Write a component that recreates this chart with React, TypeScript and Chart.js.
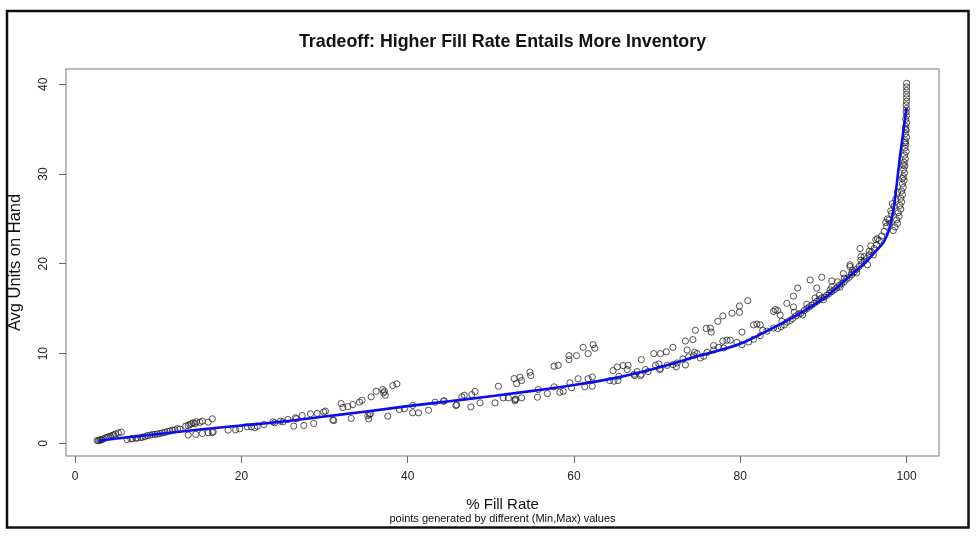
import { useEffect, useRef } from 'react';
import { Chart, ChartConfiguration, registerables } from 'chart.js';

Chart.register(...registerables);

const FONT = 'Liberation Sans, Arial, Helvetica, sans-serif';

const xTicks = [0, 20, 40, 60, 80, 100];
const yTicks = [0, 10, 20, 30, 40];

// smoothed fit (blue line)
const fitX = [2.8, 5, 10, 15, 20, 25, 30, 35, 40, 45, 50, 55, 60, 65, 70, 75, 80, 84, 87, 90.4, 93, 96.1, 97.9, 98.5, 99.2, 100];
const fitY = [0.3, 0.55, 1.05, 1.55, 2.0, 2.45, 3.0, 3.55, 4.15, 4.7, 5.25, 5.85, 6.5, 7.3, 8.4, 9.75, 11.1, 12.9, 14.4, 16.4, 18.5, 21.2, 23.8, 26.5, 31.9, 37.4];

// [fill rate %, avg units on hand]
const lowPoints: [number, number][] = [
  [2.65, 0.33], [2.8, 0.3], [2.95, 0.36], [3.05, 0.42], [3.2, 0.4], [3.4, 0.5], [3.65, 0.63], [3.85, 0.68],
  [4.05, 0.74], [4.25, 0.8], [4.45, 0.89], [4.65, 0.95], [4.85, 1.04], [5.2, 1.17], [5.55, 1.26], [6.25, 0.44],
  [6.7, 0.5], [6.9, 0.55], [7.3, 0.58], [7.5, 0.6], [7.9, 0.64], [8.1, 0.7], [8.4, 0.75], [8.7, 0.88],
  [9.0, 0.92], [9.3, 1.0], [9.6, 1.0], [9.9, 1.07], [10.2, 1.1], [10.5, 1.19], [10.8, 1.22], [11.1, 1.33],
  [11.4, 1.38], [11.7, 1.48], [12.0, 1.5], [12.3, 1.63], [12.6, 1.6], [13.3, 1.93], [13.6, 2.0], [13.8, 2.1],
  [14.0, 2.2], [14.2, 2.3], [14.4, 2.2], [14.6, 2.4], [15.0, 2.35], [15.3, 2.48], [16.0, 2.37], [16.5, 2.74],
  [13.6, 0.93], [14.5, 1.0], [15.3, 1.11], [16.0, 1.19], [16.5, 1.2], [16.6, 1.3], [18.4, 1.48], [19.3, 1.52],
  [19.8, 1.63], [20.7, 1.85], [21.2, 1.85], [21.6, 1.75], [21.9, 1.93], [22.7, 2.1], [23.8, 2.4], [24.0, 2.3],
  [24.7, 2.48], [25.0, 2.4], [25.6, 2.67], [26.5, 2.85], [26.3, 1.93], [26.6, 2.75],
];

const midPoints: [number, number][] = [
  [27.3, 3.1], [28.3, 3.3], [29.1, 3.35], [29.9, 3.5], [30.1, 3.6], [27.5, 2.0], [28.7, 2.22], [31.0, 2.6],
  [31.1, 2.55], [32.0, 4.44], [32.2, 4.0], [32.8, 4.1], [33.4, 4.33], [34.2, 4.6], [34.5, 4.81], [35.6, 5.19],
  [36.2, 5.81], [37.0, 6.0], [37.1, 5.63], [37.2, 5.8], [37.3, 5.37], [38.2, 6.44], [38.7, 6.63], [33.2, 2.78],
  [35.2, 3.11], [35.3, 2.74], [35.4, 3.22], [35.5, 3.3], [37.6, 3.04], [39.0, 3.78], [39.6, 3.85], [40.6, 4.22],
  [40.6, 3.41], [41.3, 3.41], [42.5, 3.7], [43.3, 4.59], [44.3, 4.7], [44.4, 4.75], [45.8, 4.22], [45.9, 4.3],
  [46.5, 5.19], [46.8, 5.37], [47.6, 4.07], [47.7, 5.44], [48.1, 5.78], [48.7, 4.52], [50.5, 4.52], [50.9, 6.37],
  [51.5, 5.07], [52.1, 5.07], [52.8, 7.22], [52.9, 4.89], [53.1, 6.67], [53.5, 7.37], [53.7, 5.07], [53.7, 7.0],
  [54.7, 7.93], [54.8, 7.56], [55.6, 5.15], [55.7, 6.0], [52.9, 4.75], [53.0, 4.95],
];

const upperPoints: [number, number][] = [
  [56.8, 5.56], [57.6, 6.3], [58.3, 5.7], [58.7, 5.8], [59.5, 6.74], [59.7, 6.2], [60.5, 7.2], [61.3, 6.3],
  [61.7, 7.2], [62.2, 7.4], [62.2, 6.37], [57.6, 8.6], [58.1, 8.7], [59.4, 9.78], [59.4, 9.33], [60.3, 9.78],
  [61.1, 10.7], [61.7, 10.0], [62.3, 11.0], [62.5, 10.6], [64.3, 7.0], [64.7, 8.11], [64.8, 6.93], [65.2, 8.52],
  [65.3, 7.0], [65.9, 8.67], [66.5, 8.7], [67.3, 7.56], [67.6, 8.0], [68.0, 7.56], [68.1, 9.33], [68.9, 8.0],
  [69.6, 10.0], [69.8, 8.7], [70.3, 8.22], [70.4, 10.0], [71.1, 10.2], [71.9, 10.7], [72.3, 8.52], [73.1, 9.4],
  [73.4, 11.4], [73.4, 8.74], [74.3, 11.56], [74.6, 12.6], [74.5, 10.15], [75.2, 9.52], [75.9, 12.8], [76.5, 12.4],
  [76.4, 12.85], [75.6, 9.7], [76.0, 10.15], [76.8, 10.9], [77.3, 13.6], [77.9, 11.4], [77.9, 14.2], [78.4, 11.5],
  [78.8, 11.5], [79.0, 14.5], [79.6, 11.26], [79.9, 14.6], [79.9, 15.3], [80.2, 12.4], [80.9, 15.9], [81.6, 13.2],
  [82.0, 13.3], [82.4, 13.2], [82.7, 12.6], [80.2, 11.0], [81.0, 11.3], [81.6, 11.6], [82.4, 12.0], [83.2, 12.5],
  [84.0, 12.85], [84.2, 14.9], [84.5, 14.8], [84.0, 14.7], [77.4, 10.7], [78.0, 10.63], [76.8, 10.4], [74.4, 9.78],
  [73.8, 9.63], [74.8, 10.0], [73.6, 10.4], [72.4, 8.96], [71.9, 8.78], [71.2, 8.7], [70.4, 8.33], [70.2, 8.85],
  [68.6, 8.22], [68.1, 7.7], [67.2, 7.7], [66.4, 8.22], [65.4, 7.48],
];

const steepPoints: [number, number][] = [
  [88.4, 18.2], [89.8, 18.5], [86.9, 17.3], [86.4, 16.4], [85.6, 15.6], [86.4, 15.2], [84.8, 14.3], [91.0, 18.1],
  [91.7, 18.0], [92.4, 18.9], [93.2, 19.9], [93.2, 19.7], [94.4, 21.7], [94.5, 20.8], [95.7, 22.0], [96.3, 22.7],
  [89.0, 16.2], [90.8, 17.1], [89.2, 17.3], [93.4, 19.0], [94.9, 20.8], [95.3, 19.9],
  [84.5, 12.8], [84.9, 13.0], [85.3, 13.2], [85.6, 13.5], [86.0, 13.7], [86.3, 13.9], [86.7, 14.2], [87.0, 14.4],
  [87.3, 14.5], [87.7, 14.8], [88.0, 15.0], [88.3, 15.2], [88.6, 15.4], [88.9, 15.6], [89.2, 15.8], [89.5, 16.0],
  [89.8, 16.2], [90.1, 16.3], [90.4, 16.5], [90.7, 16.7], [91.0, 16.9], [91.3, 17.1], [91.6, 17.3], [91.9, 17.6],
  [92.2, 17.8], [92.5, 18.0], [92.8, 18.3], [93.1, 18.5], [93.4, 18.8], [93.7, 19.1], [94.0, 19.4], [94.3, 19.7],
  [94.6, 20.0], [94.9, 20.3], [95.2, 20.6], [95.5, 21.0], [95.8, 21.3], [96.1, 21.7], [96.4, 22.1], [96.7, 22.6],
  [97.0, 23.1], [97.3, 23.6], [97.6, 24.2], [97.9, 24.9], [98.2, 25.6], [98.5, 26.4], [98.7, 27.2], [98.9, 28.0],
  [85.0, 13.6], [86.5, 14.6], [88.0, 15.5], [89.5, 16.5], [91.0, 17.4], [92.5, 18.4], [93.5, 19.3], [94.5, 20.4],
  [95.5, 21.4], [96.5, 22.8], [97.5, 24.6], [98.3, 26.7], [87.5, 14.3], [90.0, 16.0], [92.0, 17.4], [94.0, 19.0],
  [96.0, 21.0], [98.0, 24.5],
];

const columnPoints: [number, number][] = [
  [100.0, 40.1], [100.0, 39.7], [100.0, 39.3], [100.0, 38.9], [100.0, 38.5], [100.0, 38.1], [99.95, 37.7], [100.0, 37.3],
  [99.95, 36.9], [100.0, 36.5], [99.9, 36.1], [100.0, 35.7], [99.9, 35.3], [99.95, 34.9], [99.85, 34.5], [100.0, 34.1],
  [99.85, 33.7], [99.9, 33.3], [99.8, 32.9], [99.95, 32.5], [99.75, 32.1], [99.85, 31.7], [99.7, 31.3], [99.8, 30.9],
  [99.65, 30.5], [99.75, 30.1], [99.6, 29.7], [99.7, 29.3], [99.5, 28.9], [99.6, 28.5], [99.4, 28.1], [99.5, 27.7],
  [99.3, 27.3], [99.4, 26.9], [99.2, 26.5], [99.3, 26.1], [99.0, 25.7], [99.1, 25.3], [98.8, 24.9], [98.9, 24.5],
  [98.6, 24.1], [98.4, 23.7], [98.1, 25.9], [97.7, 25.0], [99.6, 31.0], [99.8, 33.5], [99.9, 35.0], [99.5, 29.5],
];

// outer frame + plot box, like base R graphics
const boxPlugin = {
  id: 'rBox',
  afterDraw(chart: Chart) {
    const { ctx, chartArea: a } = chart;
    ctx.save();
    ctx.strokeStyle = '#7a7a7a';
    ctx.lineWidth = 1;
    ctx.strokeRect(a.left, a.top, a.right - a.left, a.bottom - a.top);
    ctx.strokeStyle = '#111';
    ctx.lineWidth = 2.5;
    ctx.strokeRect(7, 11, 961.5, 516.5);
    ctx.restore();
  },
};

export default function App() {
  const canvasRef = useRef<HTMLCanvasElement>(null);
  const chartRef = useRef<Chart | null>(null);

  useEffect(() => {
    if (!canvasRef.current) return;
    const ctx = canvasRef.current.getContext('2d');
    if (!ctx) return;
    if (chartRef.current) chartRef.current.destroy();

    Chart.defaults.font.family = FONT;
    Chart.defaults.color = '#222';

    const allPoints = [...lowPoints, ...midPoints, ...upperPoints, ...steepPoints, ...columnPoints];

    const config: ChartConfiguration = {
      type: 'scatter',
      data: {
        datasets: [
          {
            type: 'line',
            label: 'fit',
            data: fitX.map((x, i) => ({ x, y: fitY[i] })),
            borderColor: '#0c0cf0',
            borderWidth: 2.6,
            pointRadius: 0,
            showLine: true,
            fill: false,
            cubicInterpolationMode: 'monotone',
            order: 0,
          },
          {
            label: 'points',
            data: allPoints.map(([x, y]) => ({ x, y })),
            pointStyle: 'circle',
            pointRadius: 3.1,
            backgroundColor: 'rgba(0,0,0,0)',
            borderColor: 'rgba(30,30,30,0.85)',
            borderWidth: 0.9,
            order: 1,
          },
        ],
      } as any,
      options: {
        animation: false,
        responsive: true,
        maintainAspectRatio: false,
        layout: { padding: { left: 0, right: 41, top: 0, bottom: 0 } },
        plugins: {
          legend: { display: false },
          tooltip: { enabled: false },
          title: {
            display: true,
            text: 'Tradeoff: Higher Fill Rate Entails More Inventory',
            color: '#111',
            font: { size: 17.8, weight: 'bold', family: FONT, lineHeight: 1.2 },
            padding: { top: 31.3, bottom: 16.3 },
            fullSize: false,
          },
          subtitle: {
            display: true,
            position: 'bottom',
            text: 'points generated by different (Min,Max) values',
            color: '#111',
            font: { size: 11, lineHeight: 1, family: FONT },
            padding: { top: 0, bottom: 15.5 },
            fullSize: false,
          },
        },
        scales: {
          x: {
            type: 'linear',
            min: -1.1,
            max: 103.9,
            afterBuildTicks: (s: any) => {
              s.ticks = xTicks.map((v) => ({ value: v }));
            },
            afterFit: (s: any) => {
              s.height = 57.5;
            },
            ticks: { font: { size: 12 }, color: '#222', padding: 6, maxRotation: 0 },
            grid: { drawOnChartArea: false, tickLength: 7, color: '#666' },
            border: { display: false },
            title: {
              display: true,
              text: '% Fill Rate',
              color: '#111',
              font: { size: 15, lineHeight: 1 },
              padding: { top: 0, bottom: 1 },
            },
          },
          y: {
            type: 'linear',
            min: -1.4,
            max: 41.7,
            afterBuildTicks: (s: any) => {
              s.ticks = yTicks.map((v) => ({ value: v }));
            },
            afterFit: (s: any) => {
              s.width = 66;
            },
            ticks: { font: { size: 12 }, color: '#222', padding: 9, minRotation: 90, maxRotation: 90, crossAlign: 'center' },
            grid: { drawOnChartArea: false, tickLength: 7, color: '#666' },
            border: { display: false },
            title: {
              display: true,
              text: 'Avg Units on Hand',
              color: '#111',
              font: { size: 16.5, lineHeight: 1 },
              padding: { top: 7.5, bottom: 0 },
            },
          },
        },
      },
      plugins: [boxPlugin],
    };

    chartRef.current = new Chart(ctx, config);

    return () => {
      if (chartRef.current) {
        chartRef.current.destroy();
        chartRef.current = null;
      }
    };
  }, []);

  return (
    <div style={{ position: 'fixed', left: 0, top: 0, width: 980, height: 540, background: '#fff' }}>
      <canvas ref={canvasRef}></canvas>
    </div>
  );
}
